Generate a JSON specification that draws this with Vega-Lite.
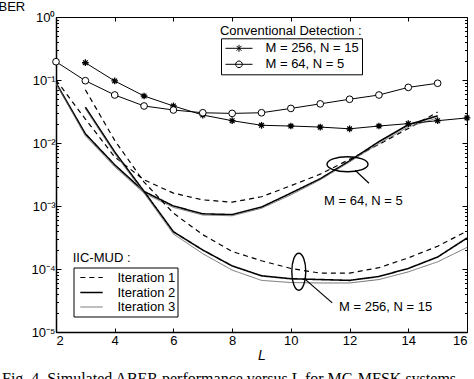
{
  "$schema": "https://vega.github.io/schema/vega-lite/v6.json",
  "width": 411,
  "height": 315,
  "autosize": "none",
  "padding": {"left": 56, "top": 17, "right": 7, "bottom": 47},
  "background": "white",
  "config": {
    "view": {"stroke": "black", "strokeWidth": 1},
    "font": "Liberation Sans",
    "axis": {"grid": false, "domainColor": "black", "tickColor": "black", "labelColor": "black", "titleColor": "black", "labelFont": "Liberation Sans", "titleFont": "Liberation Sans", "labelFontSize": 13, "domainWidth": 1.5, "tickWidth": 1},
    "legend": {"labelFont": "Liberation Sans", "labelFontSize": 13, "labelColor": "black"}
  },
  "title": {"text": "Fig. 4. Simulated ABER performance versus L for MC-MFSK systems", "orient": "bottom", "anchor": "start", "frame": "group", "dx": -54, "offset": 9, "font": "Liberation Serif", "fontSize": 16, "fontWeight": "normal", "color": "black", "baseline": "top"},
  "datasets": {
    "conv": [
      {"series": "M = 256, N = 15", "L": 3, "BER": 0.188},
      {"series": "M = 256, N = 15", "L": 4, "BER": 0.0965},
      {"series": "M = 256, N = 15", "L": 5, "BER": 0.0557},
      {"series": "M = 256, N = 15", "L": 6, "BER": 0.0387},
      {"series": "M = 256, N = 15", "L": 7, "BER": 0.0278},
      {"series": "M = 256, N = 15", "L": 8, "BER": 0.0226},
      {"series": "M = 256, N = 15", "L": 9, "BER": 0.0191},
      {"series": "M = 256, N = 15", "L": 10, "BER": 0.0186},
      {"series": "M = 256, N = 15", "L": 11, "BER": 0.0179},
      {"series": "M = 256, N = 15", "L": 12, "BER": 0.0168},
      {"series": "M = 256, N = 15", "L": 13, "BER": 0.0186},
      {"series": "M = 256, N = 15", "L": 14, "BER": 0.0203},
      {"series": "M = 256, N = 15", "L": 15, "BER": 0.0226},
      {"series": "M = 256, N = 15", "L": 16, "BER": 0.025},
      {"series": "M = 64, N = 5", "L": 2, "BER": 0.195},
      {"series": "M = 64, N = 5", "L": 3, "BER": 0.0974},
      {"series": "M = 64, N = 5", "L": 4, "BER": 0.0578},
      {"series": "M = 64, N = 5", "L": 5, "BER": 0.0387},
      {"series": "M = 64, N = 5", "L": 6, "BER": 0.0334},
      {"series": "M = 64, N = 5", "L": 7, "BER": 0.0302},
      {"series": "M = 64, N = 5", "L": 8, "BER": 0.0295},
      {"series": "M = 64, N = 5", "L": 9, "BER": 0.0302},
      {"series": "M = 64, N = 5", "L": 10, "BER": 0.0354},
      {"series": "M = 64, N = 5", "L": 11, "BER": 0.0418},
      {"series": "M = 64, N = 5", "L": 12, "BER": 0.0495},
      {"series": "M = 64, N = 5", "L": 13, "BER": 0.0578},
      {"series": "M = 64, N = 5", "L": 14, "BER": 0.0764},
      {"series": "M = 64, N = 5", "L": 15, "BER": 0.0888}
    ],
    "iic": [
      {"g": "64", "iter": "Iteration 1", "L": 2, "BER": 0.1},
      {"g": "64", "iter": "Iteration 1", "L": 3, "BER": 0.024},
      {"g": "64", "iter": "Iteration 1", "L": 4, "BER": 0.006},
      {"g": "64", "iter": "Iteration 1", "L": 5, "BER": 0.0026},
      {"g": "64", "iter": "Iteration 1", "L": 6, "BER": 0.0016},
      {"g": "64", "iter": "Iteration 1", "L": 7, "BER": 0.00125},
      {"g": "64", "iter": "Iteration 1", "L": 8, "BER": 0.00115},
      {"g": "64", "iter": "Iteration 1", "L": 9, "BER": 0.0014},
      {"g": "64", "iter": "Iteration 1", "L": 10, "BER": 0.0021},
      {"g": "64", "iter": "Iteration 1", "L": 11, "BER": 0.0032},
      {"g": "64", "iter": "Iteration 1", "L": 12, "BER": 0.0055},
      {"g": "64", "iter": "Iteration 1", "L": 13, "BER": 0.0095},
      {"g": "64", "iter": "Iteration 1", "L": 14, "BER": 0.017},
      {"g": "64", "iter": "Iteration 1", "L": 15, "BER": 0.031},
      {"g": "64", "iter": "Iteration 2", "L": 2, "BER": 0.09},
      {"g": "64", "iter": "Iteration 2", "L": 3, "BER": 0.014},
      {"g": "64", "iter": "Iteration 2", "L": 4, "BER": 0.0045},
      {"g": "64", "iter": "Iteration 2", "L": 5, "BER": 0.0017},
      {"g": "64", "iter": "Iteration 2", "L": 6, "BER": 0.001},
      {"g": "64", "iter": "Iteration 2", "L": 7, "BER": 0.00075},
      {"g": "64", "iter": "Iteration 2", "L": 8, "BER": 0.00073},
      {"g": "64", "iter": "Iteration 2", "L": 9, "BER": 0.00096},
      {"g": "64", "iter": "Iteration 2", "L": 10, "BER": 0.0016},
      {"g": "64", "iter": "Iteration 2", "L": 11, "BER": 0.0027},
      {"g": "64", "iter": "Iteration 2", "L": 12, "BER": 0.0052},
      {"g": "64", "iter": "Iteration 2", "L": 13, "BER": 0.0105},
      {"g": "64", "iter": "Iteration 2", "L": 14, "BER": 0.0195},
      {"g": "64", "iter": "Iteration 2", "L": 15, "BER": 0.027},
      {"g": "64", "iter": "Iteration 3", "L": 2, "BER": 0.088},
      {"g": "64", "iter": "Iteration 3", "L": 3, "BER": 0.013},
      {"g": "64", "iter": "Iteration 3", "L": 4, "BER": 0.0042},
      {"g": "64", "iter": "Iteration 3", "L": 5, "BER": 0.0016},
      {"g": "64", "iter": "Iteration 3", "L": 6, "BER": 0.00095},
      {"g": "64", "iter": "Iteration 3", "L": 7, "BER": 0.00072},
      {"g": "64", "iter": "Iteration 3", "L": 8, "BER": 0.0007},
      {"g": "64", "iter": "Iteration 3", "L": 9, "BER": 0.00092},
      {"g": "64", "iter": "Iteration 3", "L": 10, "BER": 0.0015},
      {"g": "64", "iter": "Iteration 3", "L": 11, "BER": 0.0026},
      {"g": "64", "iter": "Iteration 3", "L": 12, "BER": 0.005},
      {"g": "64", "iter": "Iteration 3", "L": 13, "BER": 0.0098},
      {"g": "64", "iter": "Iteration 3", "L": 14, "BER": 0.018},
      {"g": "64", "iter": "Iteration 3", "L": 15, "BER": 0.025},
      {"g": "256", "iter": "Iteration 1", "L": 3, "BER": 0.07},
      {"g": "256", "iter": "Iteration 1", "L": 4, "BER": 0.011},
      {"g": "256", "iter": "Iteration 1", "L": 5, "BER": 0.0024},
      {"g": "256", "iter": "Iteration 1", "L": 6, "BER": 0.00077},
      {"g": "256", "iter": "Iteration 1", "L": 7, "BER": 0.00035},
      {"g": "256", "iter": "Iteration 1", "L": 8, "BER": 0.00019},
      {"g": "256", "iter": "Iteration 1", "L": 9, "BER": 0.000135},
      {"g": "256", "iter": "Iteration 1", "L": 10, "BER": 0.000102},
      {"g": "256", "iter": "Iteration 1", "L": 11, "BER": 0.000086},
      {"g": "256", "iter": "Iteration 1", "L": 12, "BER": 0.000086},
      {"g": "256", "iter": "Iteration 1", "L": 13, "BER": 0.000105},
      {"g": "256", "iter": "Iteration 1", "L": 14, "BER": 0.00015},
      {"g": "256", "iter": "Iteration 1", "L": 15, "BER": 0.00023},
      {"g": "256", "iter": "Iteration 1", "L": 16, "BER": 0.0004},
      {"g": "256", "iter": "Iteration 2", "L": 3, "BER": 0.037},
      {"g": "256", "iter": "Iteration 2", "L": 4, "BER": 0.0072},
      {"g": "256", "iter": "Iteration 2", "L": 5, "BER": 0.0017},
      {"g": "256", "iter": "Iteration 2", "L": 6, "BER": 0.00039},
      {"g": "256", "iter": "Iteration 2", "L": 7, "BER": 0.0002},
      {"g": "256", "iter": "Iteration 2", "L": 8, "BER": 0.000112},
      {"g": "256", "iter": "Iteration 2", "L": 9, "BER": 0.000078},
      {"g": "256", "iter": "Iteration 2", "L": 10, "BER": 0.00007},
      {"g": "256", "iter": "Iteration 2", "L": 11, "BER": 0.000068},
      {"g": "256", "iter": "Iteration 2", "L": 12, "BER": 0.000066},
      {"g": "256", "iter": "Iteration 2", "L": 13, "BER": 0.000076},
      {"g": "256", "iter": "Iteration 2", "L": 14, "BER": 0.000102},
      {"g": "256", "iter": "Iteration 2", "L": 15, "BER": 0.000155},
      {"g": "256", "iter": "Iteration 2", "L": 16, "BER": 0.00031},
      {"g": "256", "iter": "Iteration 3", "L": 3, "BER": 0.035},
      {"g": "256", "iter": "Iteration 3", "L": 4, "BER": 0.0068},
      {"g": "256", "iter": "Iteration 3", "L": 5, "BER": 0.0016},
      {"g": "256", "iter": "Iteration 3", "L": 6, "BER": 0.00036},
      {"g": "256", "iter": "Iteration 3", "L": 7, "BER": 0.000175},
      {"g": "256", "iter": "Iteration 3", "L": 8, "BER": 0.000096},
      {"g": "256", "iter": "Iteration 3", "L": 9, "BER": 0.000066},
      {"g": "256", "iter": "Iteration 3", "L": 10, "BER": 0.000061},
      {"g": "256", "iter": "Iteration 3", "L": 11, "BER": 0.00006},
      {"g": "256", "iter": "Iteration 3", "L": 12, "BER": 0.00006},
      {"g": "256", "iter": "Iteration 3", "L": 13, "BER": 0.000068},
      {"g": "256", "iter": "Iteration 3", "L": 14, "BER": 0.00009},
      {"g": "256", "iter": "Iteration 3", "L": 15, "BER": 0.00013},
      {"g": "256", "iter": "Iteration 3", "L": 16, "BER": 0.00022}
    ],
    "notes": [
      {"text": "Conventional Detection :", "L": 7.585, "BER": 0.606},
      {"text": "IIC-MUD :", "L": 2.571, "BER": 0.000151},
      {"text": "M = 64, N = 5", "L": 11.13, "BER": 0.0012},
      {"text": "M = 256, N = 15", "L": 11.64, "BER": 0.000025}
    ],
    "one": [{}]
  },
  "layer": [
    {
      "data": {"name": "iic"},
      "mark": {"type": "line", "clip": true},
      "encoding": {
        "x": {"field": "L", "type": "quantitative", "scale": {"domain": [2, 16], "nice": false, "zero": false},
          "axis": {"orient": "bottom", "title": "L", "titleFontStyle": "italic", "titleFontWeight": "normal", "titleFontSize": 14, "titlePadding": 1, "values": [2, 4, 6, 8, 10, 12, 14, 16], "tickSize": -4, "labelPadding": 6}},
        "y": {"field": "BER", "type": "quantitative", "scale": {"type": "log", "domain": [0.00001, 1], "nice": false},
          "axis": {"orient": "left", "title": "BER", "titleAngle": 0, "titleAlign": "left", "titleBaseline": "middle", "titleX": -58, "titleY": -10.5, "titleFontWeight": "normal", "titleFontSize": 13,
            "values": [0.00001, 0.00002, 0.00003, 0.00004, 0.00005, 0.00006, 0.00007, 0.00008, 0.00009, 0.0001, 0.0002, 0.0003, 0.0004, 0.0005, 0.0006, 0.0007, 0.0008, 0.0009, 0.001, 0.002, 0.003, 0.004, 0.005, 0.006, 0.007, 0.008, 0.009, 0.01, 0.02, 0.03, 0.04, 0.05, 0.06, 0.07, 0.08, 0.09, 0.1, 0.2, 0.3, 0.4, 0.5, 0.6, 0.7, 0.8, 0.9, 1],
            "labelExpr": "abs(log(datum.value)/LN10 - round(log(datum.value)/LN10)) < 0.001 ? '10' + ['⁰','⁻¹','⁻²','⁻³','⁻⁴','⁻⁵'][-round(log(datum.value)/LN10)] : ''",
            "tickSize": {"condition": {"test": "abs(log(datum.value)/LN10 - round(log(datum.value)/LN10)) < 0.001", "value": -5}, "value": -2.5},
            "labelPadding": 6}},
        "detail": {"field": "g"},
        "color": {"field": "iter", "type": "nominal", "scale": {"type": "ordinal", "domain": ["Iteration 1", "Iteration 2", "Iteration 3"], "range": ["black", "black", "#707070"]},
          "legend": {"orient": "none", "legendX": 17.5, "legendY": 250.5, "title": null, "strokeColor": "black", "fillColor": "white", "padding": 2, "symbolType": "M -1.6 0 L 1.6 0", "symbolSize": 196, "symbolOffset": 8, "labelOffset": 18, "rowPadding": 0, "labelExpr": "datum.label + '  '"}},
        "strokeDash": {"field": "iter", "type": "nominal", "scale": {"type": "ordinal", "domain": ["Iteration 1", "Iteration 2", "Iteration 3"], "range": [[5, 4], [1, 0], [1, 0]]},
          "legend": {"orient": "none", "legendX": 17.5, "legendY": 250.5, "title": null, "strokeColor": "black", "fillColor": "white", "padding": 2, "symbolType": "M -1.6 0 L 1.6 0", "symbolSize": 196, "symbolOffset": 8, "labelOffset": 18, "rowPadding": 0, "labelExpr": "datum.label + '  '"}},
        "strokeWidth": {"field": "iter", "type": "nominal", "scale": {"type": "ordinal", "domain": ["Iteration 1", "Iteration 2", "Iteration 3"], "range": [1.2, 1.6, 1]},
          "legend": {"orient": "none", "legendX": 17.5, "legendY": 250.5, "title": null, "strokeColor": "black", "fillColor": "white", "padding": 2, "symbolType": "M -1.6 0 L 1.6 0", "symbolSize": 196, "symbolOffset": 8, "labelOffset": 18, "rowPadding": 0, "labelExpr": "datum.label + '  '"}}
      }
    },
    {
      "data": {"name": "conv"},
      "mark": {"type": "line", "color": "black", "strokeWidth": 1},
      "encoding": {
        "x": {"field": "L", "type": "quantitative", "axis": {"orient": "top", "labels": false, "title": null, "domain": false, "values": [2, 4, 6, 8, 10, 12, 14, 16], "tickSize": -4}},
        "y": {"field": "BER", "type": "quantitative", "scale": {"type": "log"},
          "axis": {"orient": "right", "labels": false, "title": null, "domain": false,
            "values": [0.00001, 0.00002, 0.00003, 0.00004, 0.00005, 0.00006, 0.00007, 0.00008, 0.00009, 0.0001, 0.0002, 0.0003, 0.0004, 0.0005, 0.0006, 0.0007, 0.0008, 0.0009, 0.001, 0.002, 0.003, 0.004, 0.005, 0.006, 0.007, 0.008, 0.009, 0.01, 0.02, 0.03, 0.04, 0.05, 0.06, 0.07, 0.08, 0.09, 0.1, 0.2, 0.3, 0.4, 0.5, 0.6, 0.7, 0.8, 0.9, 1],
            "tickSize": {"condition": {"test": "abs(log(datum.value)/LN10 - round(log(datum.value)/LN10)) < 0.001", "value": -5}, "value": -2.5}}},
        "detail": {"field": "series"}
      }
    },
    {
      "data": {"name": "conv"},
      "transform": [{"filter": "datum.series == 'M = 256, N = 15'"}],
      "mark": {"type": "point", "shape": "M 0 -1 L 0 1 M -1 0 L 1 0 M -0.7 -0.7 L 0.7 0.7 M -0.7 0.7 L 0.7 -0.7", "size": 45, "filled": false, "stroke": "black", "strokeWidth": 1.3, "opacity": 1},
      "encoding": {
        "x": {"field": "L", "type": "quantitative", "axis": null},
        "y": {"field": "BER", "type": "quantitative", "axis": null}
      }
    },
    {
      "data": {"name": "conv"},
      "transform": [{"filter": "datum.series == 'M = 64, N = 5'"}],
      "mark": {"type": "point", "shape": "circle", "size": 45, "filled": true, "fill": "white", "stroke": "black", "strokeWidth": 1, "opacity": 1},
      "encoding": {
        "x": {"field": "L", "type": "quantitative", "axis": null},
        "y": {"field": "BER", "type": "quantitative", "axis": null}
      }
    },
    {
      "data": {"name": "conv"},
      "mark": {"type": "point", "filled": false, "color": "black", "opacity": 0},
      "encoding": {
        "x": {"field": "L", "type": "quantitative", "axis": null},
        "y": {"field": "BER", "type": "quantitative", "axis": null},
        "shape": {"field": "series", "type": "nominal",
          "scale": {"domain": ["M = 256, N = 15", "M = 64, N = 5"], "range": ["M -1.93 0 L 1.93 0 M 0 -0.5 L 0 0.5 M -0.35 -0.35 L 0.35 0.35 M -0.35 0.35 L 0.35 -0.35", "M -1.93 0 L 1.93 0 M 0.47 0 A 0.47 0.47 0 1 1 -0.47 0 A 0.47 0.47 0 1 1 0.47 0"]},
          "legend": {"orient": "none", "legendX": 165, "legendY": 21.3, "title": null, "strokeColor": "black", "fillColor": "white", "padding": 2.5, "symbolSize": 196, "symbolStrokeColor": "black", "symbolFillColor": "transparent", "symbolStrokeWidth": 1, "symbolOpacity": 1, "symbolOffset": 8, "labelOffset": 19, "rowPadding": 1, "labelExpr": "datum.label + '         '"}}
      }
    },
    {
      "data": {"name": "one"},
      "mark": {"type": "point", "shape": "M -1 0 A 1 0.366 0 1 1 1 0 A 1 0.366 0 1 1 -1 0 Z", "size": 1681, "filled": false, "stroke": "black", "strokeWidth": 1.4, "opacity": 1},
      "encoding": {
        "x": {"datum": 11.93, "type": "quantitative", "axis": null},
        "y": {"datum": 0.0046, "type": "quantitative", "axis": null}
      }
    },
    {
      "data": {"name": "one"},
      "mark": {"type": "point", "shape": "M 0 -1 A 0.378 1 0 1 1 0 1 A 0.378 1 0 1 1 0 -1 Z", "size": 1369, "filled": false, "stroke": "black", "strokeWidth": 1.4, "opacity": 1},
      "encoding": {
        "x": {"datum": 10.27, "type": "quantitative", "axis": null},
        "y": {"datum": 0.0000906, "type": "quantitative", "axis": null}
      }
    },
    {
      "data": {"name": "one"},
      "mark": {"type": "rule", "color": "black", "strokeWidth": 1.2},
      "encoding": {
        "x": {"datum": 12.19, "type": "quantitative", "axis": null},
        "y": {"datum": 0.0037, "type": "quantitative", "axis": null},
        "x2": {"datum": 12.66},
        "y2": {"datum": 0.0023}
      }
    },
    {
      "data": {"name": "one"},
      "mark": {"type": "rule", "color": "black", "strokeWidth": 1.2},
      "encoding": {
        "x": {"datum": 10.45, "type": "quantitative", "axis": null},
        "y": {"datum": 0.000071, "type": "quantitative", "axis": null},
        "x2": {"datum": 11.41},
        "y2": {"datum": 0.000029}
      }
    },
    {
      "data": {"name": "notes"},
      "mark": {"type": "text", "align": "left", "baseline": "middle", "font": "Liberation Sans", "fontSize": 13, "color": "black"},
      "encoding": {
        "x": {"field": "L", "type": "quantitative", "axis": null},
        "y": {"field": "BER", "type": "quantitative", "axis": null},
        "text": {"field": "text"}
      }
    }
  ],
  "resolve": {"axis": {"x": "independent", "y": "independent"}}
}
